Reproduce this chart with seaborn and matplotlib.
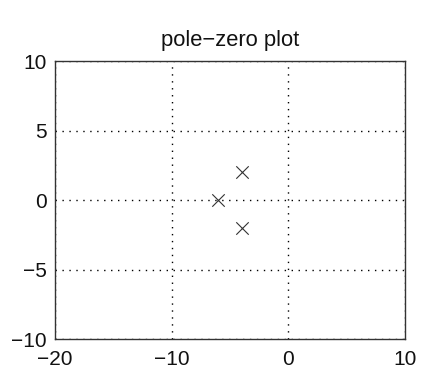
import numpy as np
import pandas as pd
import matplotlib
matplotlib.use("Agg")
import matplotlib.pyplot as plt
import seaborn as sns

# poles of the system
pole_re = [-6, -4, -4]
pole_im = [0, 2, -2]

x_ticks = [-20, -10, 0, 10]
y_ticks = [-10, -5, 0, 5, 10]

sns.set_style("white")
plt.rcParams['font.family'] = ['Liberation Sans', 'DejaVu Sans']

df = pd.DataFrame({"re": pole_re, "im": pole_im})

fig = plt.figure(figsize=(4.45, 3.87), dpi=100)
ax = fig.add_axes([0.1236, 0.124, 0.7865, 0.718])

sns.scatterplot(data=df, x="re", y="im", marker="x", s=80, color="#333333",
                linewidth=0.8, ax=ax, legend=False)

ax.set_xlim(-20, 10)
ax.set_ylim(-10, 10)
ax.set_xticks(x_ticks)
ax.set_yticks(y_ticks)
ax.set_xticklabels([str(t).replace("-", "\u2212") for t in x_ticks])
ax.set_yticklabels([str(t).replace("-", "\u2212") for t in y_ticks])
ax.set_xlabel("")
ax.set_ylabel("")
ax.grid(True, color="black", linestyle=(0, (1, 4)), linewidth=1.0)
ax.tick_params(axis="both", labelsize=15, direction="in", length=2,
               color="#333333", labelcolor="#111111")
ax.tick_params(axis="x", pad=8)
ax.tick_params(axis="y", pad=6)
for s in ax.spines.values():
    s.set_color("#333333")
    s.set_linewidth(1.0)
ax.set_title("pole\u2212zero plot", fontsize=15.8, color="#111111", pad=11)

fig.savefig("out.png", dpi=100)
